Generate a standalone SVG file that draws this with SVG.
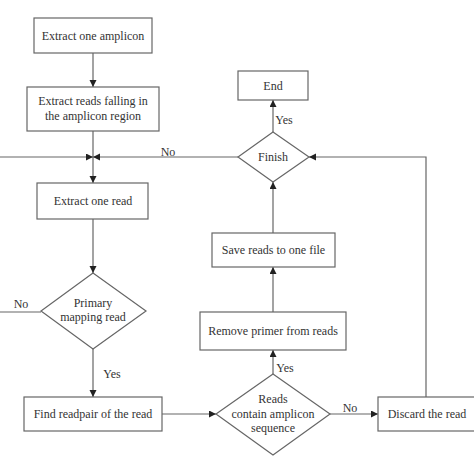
<svg xmlns="http://www.w3.org/2000/svg" width="474" height="474" viewBox="0 0 474 474">
<style>
.b{fill:#fff;stroke:#666;stroke-width:1.2}
.l{fill:none;stroke:#666;stroke-width:1.2}
text{font-family:"Liberation Serif","Times New Roman",serif;font-size:12px;fill:#333;text-anchor:middle}
</style>
<defs>
<marker id="a" markerWidth="8" markerHeight="8" refX="7" refY="3.5" orient="auto" markerUnits="userSpaceOnUse">
<path d="M0,0 L7,3.5 L0,7 Z" fill="#222"/>
</marker>
</defs>
<rect width="474" height="474" fill="#fff"/>
<g id="connectors">
<path class="l" d="M93,53 V87" marker-end="url(#a)"/>
<path class="l" d="M93,131 V183" marker-end="url(#a)"/>
<path class="l" d="M0,157 H93" marker-end="url(#a)"/>
<path class="l" d="M238,157 H93" marker-end="url(#a)"/>
<path class="l" d="M93,219 V273" marker-end="url(#a)"/>
<path class="l" d="M0,312 H41"/>
<path class="l" d="M93,349 V397" marker-end="url(#a)"/>
<path class="l" d="M162,414 H216" marker-end="url(#a)"/>
<path class="l" d="M330,414 H378" marker-end="url(#a)"/>
<path class="l" d="M273,374 V350" marker-end="url(#a)"/>
<path class="l" d="M273,312 V267" marker-end="url(#a)"/>
<path class="l" d="M273,233 V182" marker-end="url(#a)"/>
<path class="l" d="M273,132 V100" marker-end="url(#a)"/>
<path class="l" d="M426,397 V157 H309" marker-end="url(#a)"/>
<text x="168" y="156">No</text>
<text x="21" y="308">No</text>
<text x="112" y="378">Yes</text>
<text x="284" y="124">Yes</text>
<text x="285" y="372">Yes</text>
<text x="350" y="412">No</text>
</g>
<g id="n1"><rect class="b" x="34" y="18" width="118" height="35"/><text x="93" y="39.5">Extract one amplicon</text></g>
<g id="n2"><rect class="b" x="27" y="87" width="132" height="44"/><text x="93" y="105">Extract reads falling in</text><text x="93" y="120">the amplicon region</text></g>
<g id="n3"><rect class="b" x="37" y="183" width="111" height="36"/><text x="93" y="205">Extract one read</text></g>
<g id="n4"><polygon class="b" points="93,273 146,311 93,349 41,311"/><text x="93" y="307">Primary</text><text x="93" y="321">mapping read</text></g>
<g id="n5"><rect class="b" x="24" y="397" width="138" height="34"/><text x="93" y="418">Find readpair of the read</text></g>
<g id="n6"><polygon class="b" points="273,374 330,414 273,455 216,414"/><text x="273" y="403">Reads</text><text x="273" y="418">contain amplicon</text><text x="273" y="432">sequence</text></g>
<g id="n7"><rect class="b" x="378" y="397" width="98" height="34"/><text x="427" y="418">Discard the read</text></g>
<g id="n8"><rect class="b" x="200" y="312" width="146" height="38"/><text x="273" y="335">Remove primer from reads</text></g>
<g id="n9"><rect class="b" x="212" y="233" width="123" height="34"/><text x="273.5" y="254">Save reads to one file</text></g>
<g id="n10"><polygon class="b" points="273,132 309,157 273,182 238,157"/><text x="273" y="161">Finish</text></g>
<g id="n11"><rect class="b" x="238" y="71" width="70" height="29"/><text x="273" y="89.5">End</text></g>
</svg>
